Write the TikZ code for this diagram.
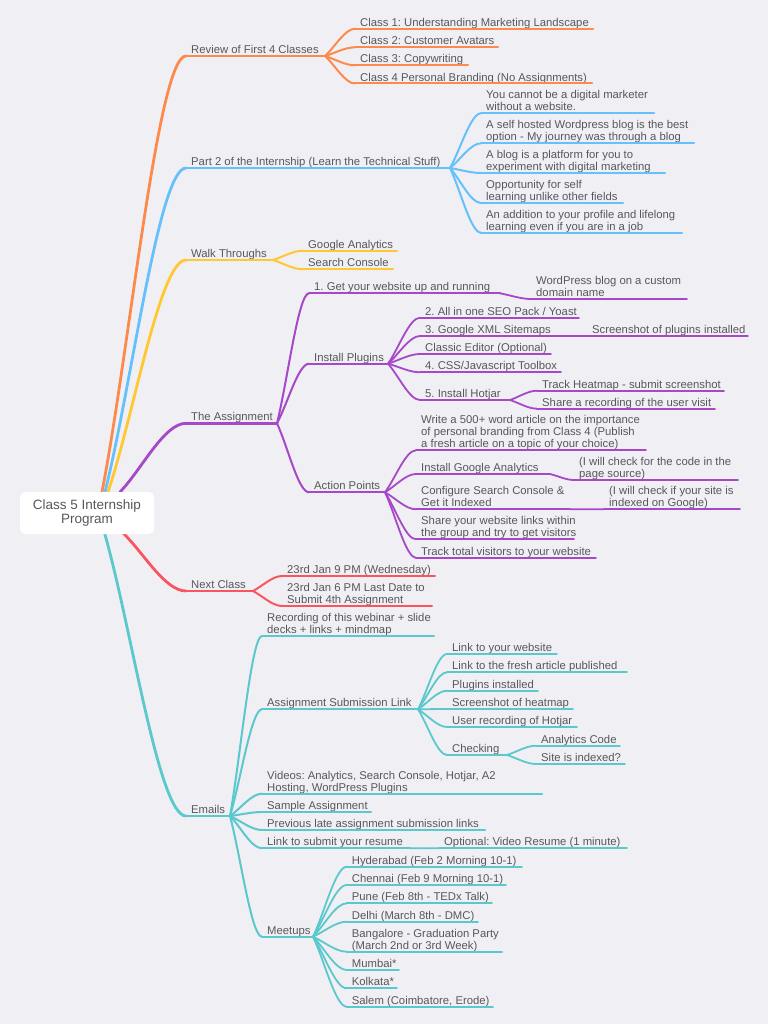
\documentclass[tikz,border=0pt]{standalone}
\usepackage{fontspec}
\setmainfont{Liberation Sans}
\usetikzlibrary{calc}
\frenchspacing
\definecolor{bg}{RGB}{240,240,244}
\definecolor{txt}{RGB}{88,88,92}
\definecolor{corange}{RGB}{252,138,77}
\definecolor{cblue}{RGB}{102,192,252}
\definecolor{cyellow}{RGB}{255,200,50}
\definecolor{cpurple}{RGB}{166,72,200}
\definecolor{cred}{RGB}{250,85,95}
\definecolor{cteal}{RGB}{90,200,205}
\newcommand{\mmtf}{\fontsize{11.3}{12.1}\selectfont\frenchspacing}
\newcommand{\mmrf}{\fontsize{13.5}{14}\selectfont\frenchspacing}
% topic: name, line style, text x, underline y, end x, text
\newcommand{\mmtopic}[6]{%
  \coordinate (#1S) at ({#3-5},#4);
  \coordinate (#1E) at (#5,#4);
  \node[lbl] (#1) at (#3,{#4+1.4}) {#6\strut};
  \draw[#2] (#1S) -- (#1E);}
\newcommand{\mmlink}[3]{%
  \draw[#1] (#2) .. controls ($(#2)!0.333!(#3)$) and ($(#3)!0.333!(#2 |- #3)$) .. (#3);}
\begin{document}
\begin{tikzpicture}[x=1pt,y=-1pt,
  lbl/.style={anchor=south west, inner sep=0pt, align=left, font=\mmtf, text=txt},
  lw1/.style={line width=2.8pt, line cap=round},
  lw2/.style={line width=2pt, line cap=round},
  lw3/.style={line width=1.8pt, line cap=round}]
\useasboundingbox (0,0) rectangle (768,1024);
\fill[bg] (0,0) rectangle (768,1024);

% root start points
\coordinate (rO) at (102,492);
\coordinate (rB) at (105,492);
\coordinate (rY) at (108,492);
\coordinate (rP) at (120,492);
\coordinate (rR) at (121,531);
\coordinate (rT) at (104,531);

% main branches
\mmtopic{review}{corange,lw1}{191}{56}{325}{Review of First 4 Classes}
\mmtopic{part}{cblue,lw1}{191}{168}{450}{Part 2 of the Internship (Learn the Technical Stuff)}
\mmtopic{walk}{cyellow,lw1}{191}{260}{273}{Walk Throughs}
\mmtopic{assign}{cpurple,lw1}{191}{423.3}{277}{The Assignment}
\mmtopic{next}{cred,lw1}{191}{591}{253}{Next Class}
\mmtopic{emails}{cteal,lw1}{191}{816}{230}{Emails}

\mmlink{corange,lw1}{rO}{reviewS}
\mmlink{cblue,lw1}{rB}{partS}
\mmlink{cyellow,lw1}{rY}{walkS}
\mmlink{cpurple,lw1}{rP}{assignS}
\mmlink{cred,lw1}{rR}{nextS}
\mmlink{cteal,lw1}{rT}{emailsS}

\node[fill=white, rounded corners=5pt, minimum width=134pt, minimum height=42pt,
  align=center, font=\mmrf, text=txt, inner sep=0pt] (root) at (87,513) {Class 5 Internship\\Program};

% review children
\mmtopic{ca}{corange,lw2}{360}{28.7}{593}{Class 1: Understanding Marketing Landscape}
\mmtopic{cb}{corange,lw2}{360}{47.3}{498}{Class 2: Customer Avatars}
\mmtopic{cc}{corange,lw2}{360}{65.3}{468}{Class 3: Copywriting}
\mmtopic{cd}{corange,lw2}{360}{83.5}{592}{Class 4 Personal Branding (No Assignments)}
\foreach \c in {ca,cb,cc,cd}{\mmlink{corange,lw2}{reviewE}{\c S}}

% part 2 children
\mmtopic{ba}{cblue,lw2}{486}{113.3}{654}{You cannot be a digital marketer\\without a website.}
\mmtopic{bb}{cblue,lw2}{486}{143.3}{694}{A self hosted Wordpress blog is the best\\option - My journey was through a blog}
\mmtopic{bc}{cblue,lw2}{486}{173}{665}{A blog is a platform for you to\\experiment with digital marketing}
\mmtopic{bd}{cblue,lw2}{486}{203}{623}{Opportunity for self\\learning unlike other fields}
\mmtopic{be}{cblue,lw2}{486}{232.7}{682}{An addition to your profile and lifelong\\learning even if you are in a job}
\foreach \c in {ba,bb,bc,bd,be}{\mmlink{cblue,lw2}{partE}{\c S}}

% walk throughs
\mmtopic{ya}{cyellow,lw2}{308}{250.7}{397}{Google Analytics}
\mmtopic{yb}{cyellow,lw2}{308}{269.3}{393}{Search Console}
\foreach \c in {ya,yb}{\mmlink{cyellow,lw2}{walkE}{\c S}}

% the assignment
\mmtopic{getweb}{cpurple,lw2}{314}{293.3}{500}{1. Get your website up and running}
\mmtopic{plugins}{cpurple,lw2}{314}{363.7}{388}{Install Plugins}
\mmtopic{action}{cpurple,lw2}{314}{492.3}{385}{Action Points}
\foreach \c in {getweb,plugins,action}{\mmlink{cpurple,lw2}{assignE}{\c S}}

\mmtopic{wp}{cpurple,lw3}{536}{299}{687}{WordPress blog on a custom\\domain name}
\mmlink{cpurple,lw3}{getwebE}{wpS}

\mmtopic{pa}{cpurple,lw3}{425}{317.7}{579}{2. All in one SEO Pack / Yoast}
\mmtopic{pb}{cpurple,lw3}{425}{336}{555}{3. Google XML Sitemaps}
\mmtopic{pc}{cpurple,lw3}{425}{354}{551}{Classic Editor (Optional)}
\mmtopic{pd}{cpurple,lw3}{425}{372.3}{561}{4. CSS/Javascript Toolbox}
\mmtopic{pe}{cpurple,lw3}{425}{400}{510}{5. Install Hotjar}
\foreach \c in {pa,pb,pc,pd,pe}{\mmlink{cpurple,lw3}{pluginsE}{\c S}}

\mmtopic{pbs}{cpurple,lw3}{592}{336}{748}{Screenshot of plugins installed}
\mmlink{cpurple,lw3}{pbE}{pbsS}

\mmtopic{ha}{cpurple,lw3}{542}{390.7}{724}{Track Heatmap - submit screenshot}
\mmtopic{hb}{cpurple,lw3}{542}{408.7}{715}{Share a recording of the user visit}
\foreach \c in {ha,hb}{\mmlink{cpurple,lw3}{peE}{\c S}}

\mmtopic{aa}{cpurple,lw3}{421}{450.3}{646}{Write a 500+ word article on the importance\\of personal branding from Class 4 (Publish\\a fresh article on a topic of your choice)}
\mmtopic{ab}{cpurple,lw3}{421}{474}{550}{Install Google Analytics}
\mmtopic{ac}{cpurple,lw3}{421}{509.3}{570}{Configure Search Console \&\\Get it Indexed}
\mmtopic{ad}{cpurple,lw3}{421}{539.3}{574}{Share your website links within\\the group and try to get visitors}
\mmtopic{ae}{cpurple,lw3}{421}{557.7}{596}{Track total visitors to your website}
\foreach \c in {aa,ab,ac,ad,ae}{\mmlink{cpurple,lw3}{actionE}{\c S}}

\mmtopic{abc}{cpurple,lw3}{579}{480}{738}{(I will check for the code in the\\page source)}
\mmlink{cpurple,lw3}{abE}{abcS}
\mmtopic{acc}{cpurple,lw3}{609}{509.3}{740}{(I will check if your site is\\indexed on Google)}
\mmlink{cpurple,lw3}{acE}{accS}

% next class
\mmtopic{na}{cred,lw2}{287}{576}{435}{23rd Jan 9 PM (Wednesday)}
\mmtopic{nb}{cred,lw2}{287}{606}{432}{23rd Jan 6 PM Last Date to\\Submit 4th Assignment}
\foreach \c in {na,nb}{\mmlink{cred,lw2}{nextE}{\c S}}

% emails
\mmtopic{ea}{cteal,lw2}{267}{636}{434}{Recording of this webinar + slide\\decks + links + mindmap}
\mmtopic{eb}{cteal,lw2}{267}{709.3}{418}{Assignment Submission Link}
\mmtopic{ec}{cteal,lw2}{267}{793.7}{542}{Videos: Analytics, Search Console, Hotjar, A2\\Hosting, WordPress Plugins}
\mmtopic{ed}{cteal,lw2}{267}{812}{371}{Sample Assignment}
\mmtopic{ee}{cteal,lw2}{267}{830}{485}{Previous late assignment submission links}
\mmtopic{ef}{cteal,lw2}{267}{848.3}{410}{Link to submit your resume}
\mmtopic{eg}{cteal,lw2}{267}{936.7}{313}{Meetups}
\foreach \c in {ea,eb,ec,ed,ee,ef,eg}{\mmlink{cteal,lw2}{emailsE}{\c S}}

\mmtopic{sa}{cteal,lw3}{452}{654}{557}{Link to your website}
\mmtopic{sb}{cteal,lw3}{452}{672.3}{627}{Link to the fresh article published}
\mmtopic{sc}{cteal,lw3}{452}{690.7}{538}{Plugins installed}
\mmtopic{sd}{cteal,lw3}{452}{709}{573}{Screenshot of heatmap}
\mmtopic{se}{cteal,lw3}{452}{727}{577}{User recording of Hotjar}
\mmtopic{sf}{cteal,lw3}{452}{755}{507}{Checking}
\foreach \c in {sa,sb,sc,sd,se,sf}{\mmlink{cteal,lw3}{ebE}{\c S}}

\mmtopic{ka}{cteal,lw3}{541}{745.7}{620}{Analytics Code}
\mmtopic{kb}{cteal,lw3}{541}{764}{625}{Site is indexed?}
\foreach \c in {ka,kb}{\mmlink{cteal,lw3}{sfE}{\c S}}

\mmtopic{efc}{cteal,lw3}{444}{848.3}{627}{Optional: Video Resume (1 minute)}
\mmlink{cteal,lw3}{efE}{efcS}

\mmtopic{ma}{cteal,lw3}{351.7}{866.7}{522}{Hyderabad (Feb 2 Morning 10-1)}
\mmtopic{mb}{cteal,lw3}{351.7}{885}{506}{Chennai (Feb 9 Morning 10-1)}
\mmtopic{mc}{cteal,lw3}{351.7}{903.3}{492}{Pune (Feb 8th - TEDx Talk)}
\mmtopic{md}{cteal,lw3}{351.7}{921.7}{478}{Delhi (March 8th - DMC)}
\mmtopic{me}{cteal,lw3}{351.7}{951.7}{502}{Bangalore - Graduation Party\\(March 2nd or 3rd Week)}
\mmtopic{mf}{cteal,lw3}{351.7}{970}{399}{Mumbai*}
\mmtopic{mg}{cteal,lw3}{351.7}{988.3}{397}{Kolkata*}
\mmtopic{mh}{cteal,lw3}{351.7}{1006.7}{493}{Salem (Coimbatore, Erode)}
\foreach \c in {ma,mb,mc,md,me,mf,mg,mh}{\mmlink{cteal,lw3}{egE}{\c S}}
\end{tikzpicture}
\end{document}
